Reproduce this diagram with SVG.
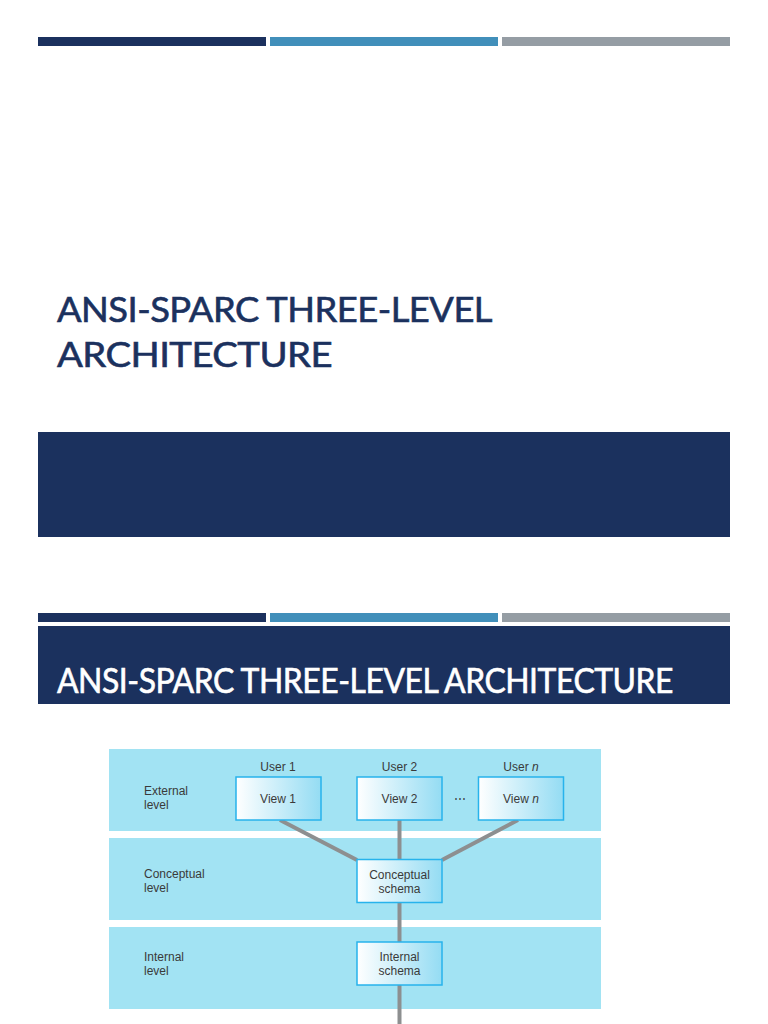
<svg xmlns="http://www.w3.org/2000/svg" width="768" height="1024" viewBox="0 0 768 1024">
<defs>
<linearGradient id="boxg" x1="0" y1="0" x2="1" y2="0">
<stop offset="0" stop-color="#ffffff"/>
<stop offset="1" stop-color="#94dcf3"/>
</linearGradient>
<style>
.dark{fill:#1b315e}
.blue{fill:#418fba}
.grey{fill:#959da4}
.title{font-family:Lato,"Open Sans","DejaVu Sans",sans-serif;font-size:34px;letter-spacing:-0.5px;stroke-width:0.6}
.band{fill:#a2e3f3}
.box{fill:url(#boxg);stroke:#27b3ec;stroke-width:1.5}
.lbl{font-family:"Liberation Sans",Arial,sans-serif;font-size:12px;fill:#3a3a3a}
.c{text-anchor:middle}
.conn{stroke:#8d8f90;stroke-width:4;fill:none}
</style>
</defs>
<rect width="768" height="1024" fill="#ffffff"/>
<g id="top-bars">
<rect class="dark" x="38" y="37" width="228" height="9"/>
<rect class="blue" x="270" y="37" width="228" height="9"/>
<rect class="grey" x="502" y="37" width="228" height="9"/>
</g>
<g id="title1">
<text class="title" x="57" y="322" fill="#1b315e" stroke="#1b315e" textLength="435" lengthAdjust="spacingAndGlyphs">ANSI-SPARC THREE-LEVEL</text>
<text class="title" x="57" y="367" fill="#1b315e" stroke="#1b315e" textLength="275" lengthAdjust="spacingAndGlyphs">ARCHITECTURE</text>
</g>
<rect id="band1" class="dark" x="38" y="432" width="692" height="105"/>
<g id="mid-bars">
<rect class="dark" x="38" y="613" width="228" height="9"/>
<rect class="blue" x="270" y="613" width="228" height="9"/>
<rect class="grey" x="502" y="613" width="228" height="9"/>
</g>
<g id="title2">
<rect class="dark" x="38" y="626" width="692" height="78"/>
<text class="title" x="57" y="693" fill="#ffffff" stroke="#ffffff" textLength="616" lengthAdjust="spacingAndGlyphs">ANSI-SPARC THREE-LEVEL ARCHITECTURE</text>
</g>
<g id="levels">
<rect class="band" x="109" y="749" width="492" height="82"/>
<rect class="band" x="109" y="838" width="492" height="82"/>
<rect class="band" x="109" y="927" width="492" height="82"/>
<text class="lbl" x="144" y="795">External</text>
<text class="lbl" x="144" y="809">level</text>
<text class="lbl" x="144" y="878">Conceptual</text>
<text class="lbl" x="144" y="892">level</text>
<text class="lbl" x="144" y="961">Internal</text>
<text class="lbl" x="144" y="975">level</text>
</g>
<g id="connectors">
<line class="conn" x1="280" y1="820" x2="357" y2="860"/>
<line class="conn" x1="399.5" y1="820" x2="399.5" y2="860"/>
<line class="conn" x1="518" y1="820" x2="442" y2="860"/>
<line class="conn" x1="399.5" y1="903" x2="399.5" y2="942"/>
<line class="conn" x1="399.5" y1="985" x2="399.5" y2="1024"/>
</g>
<g id="view1">
<text class="lbl c" x="278" y="771">User 1</text>
<rect class="box" x="236" y="777" width="85" height="43"/>
<text class="lbl c" x="278" y="803">View 1</text>
</g>
<g id="view2">
<text class="lbl c" x="399.5" y="771">User 2</text>
<rect class="box" x="357" y="777" width="85" height="43"/>
<text class="lbl c" x="399.5" y="803">View 2</text>
</g>
<text id="dots" class="lbl c" x="460" y="803">⋯</text>
<g id="viewn">
<text class="lbl c" x="521" y="771">User <tspan font-style="italic">n</tspan></text>
<rect class="box" x="478.5" y="777" width="85" height="43"/>
<text class="lbl c" x="521" y="803">View <tspan font-style="italic">n</tspan></text>
</g>
<g id="conceptual-schema">
<rect class="box" x="357" y="859.5" width="85" height="43"/>
<text class="lbl c" x="399.5" y="879">Conceptual</text>
<text class="lbl c" x="399.5" y="892.5">schema</text>
</g>
<g id="internal-schema">
<rect class="box" x="357" y="942" width="85" height="43"/>
<text class="lbl c" x="399.5" y="961">Internal</text>
<text class="lbl c" x="399.5" y="975">schema</text>
</g>
</svg>
